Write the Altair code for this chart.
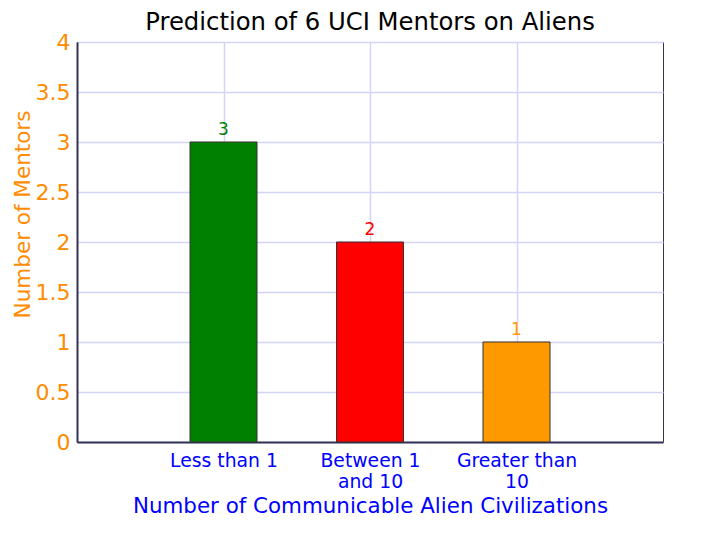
import json
import altair as alt
import pandas as pd

categories = ["Less than 1", "Between 1 and 10", "Greater than 10"]
mentors = [3, 2, 1]
bar_colors = ["#008000", "#FF0000", "#FF9900"]
label_lines = [["Less than 1"], ["Between 1", "and 10"], ["Greater than", "10"]]
y_ticks = [0, 0.5, 1, 1.5, 2, 2.5, 3, 3.5, 4]

df = pd.DataFrame({"category": categories, "mentors": mentors})

expr = "''"
for cat, lines in reversed(list(zip(categories, label_lines))):
    expr = f"datum.value == {json.dumps(cat)} ? {json.dumps(lines)} : ({expr})"

grid_color = "#D4D4F8"

x_enc = alt.X(
    "category:N",
    sort=categories,
    scale=alt.Scale(type="point", padding=1),
    axis=alt.Axis(
        title="Number of Communicable Alien Civilizations",
        labelAngle=0,
        labelExpr=expr,
        labelColor="#0000FF",
        labelFontSize=18.8,
        labelPadding=9,
        labelLineHeight=21,
        titleColor="#0000FF",
        titleFontSize=21.4,
        titleFontWeight="normal",
        titlePadding=5,
        grid=True,
        gridColor=grid_color,
        gridWidth=1.5,
        tickSize=0,
        domainColor="#333355",
        domainWidth=2,
    ),
)
y_enc = alt.Y(
    "mentors:Q",
    scale=alt.Scale(domain=[0, 4], nice=False),
    axis=alt.Axis(
        title="Number of Mentors",
        values=y_ticks,
        format="~g",
        labelColor="#FF8C00",
        labelFontSize=22,
        labelPadding=7,
        titleColor="#FF8C00",
        titleFontSize=21.5,
        titleFontWeight="normal",
        titleBaseline="middle",
        titleX=-54,
        titleY=172,
        grid=True,
        gridColor=grid_color,
        gridWidth=1.5,
        tickSize=0,
        domainColor="#333355",
        domainWidth=2,
    ),
)
color_enc = alt.Color(
    "category:N",
    scale=alt.Scale(domain=categories, range=bar_colors),
    legend=None,
)

bars = alt.Chart(df).mark_bar(size=67, stroke="#333333", strokeWidth=1).encode(
    x=x_enc, y=y_enc, color=color_enc
)
texts = alt.Chart(df).mark_text(baseline="bottom", dy=-3, fontSize=17).encode(
    x=alt.X("category:N", sort=categories),
    y=alt.Y("mentors:Q"),
    text=alt.Text("mentors:Q"),
    color=color_enc,
)

chart = (
    alt.layer(bars, texts)
    .properties(
        width=586,
        height=400,
        title=alt.TitleParams(
            "Prediction of 6 UCI Mentors on Aliens",
            fontSize=24.3,
            fontWeight="normal",
            color="#000000",
            offset=0,
            dy=4,
            anchor="middle",
        ),
        autosize=alt.AutoSizeParams(type="none"),
        padding={"left": 69, "top": 34, "right": 30, "bottom": 80},
    )
    .configure(font="DejaVu Sans")
    .configure_view(stroke="#333355", strokeWidth=1)
)

chart.save("out.html", embed_options={"renderer": "svg", "actions": False})
